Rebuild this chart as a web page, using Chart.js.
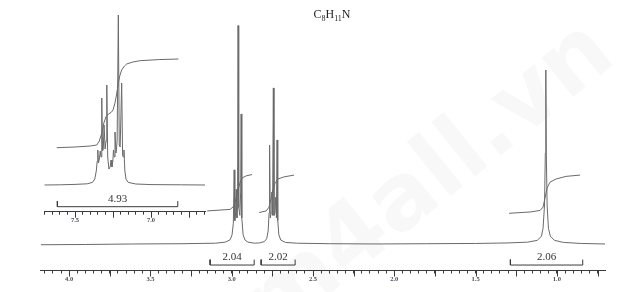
<!DOCTYPE html>
<html><head><meta charset="utf-8">
<script src="https://cdn.jsdelivr.net/npm/chart.js@4.4.1/dist/chart.umd.min.js"></script>
<style>
html,body{margin:0;padding:0;background:#fff;}
#wrap{position:relative;width:619px;height:292px;overflow:hidden;background:#fff;}
canvas{position:absolute;left:0;top:0;}
</style></head><body>
<div id="wrap"><canvas id="main" width="619" height="292"></canvas><canvas id="inset" width="619" height="292"></canvas></div>
<script>
// ---------- DATA (ppm, intensity) ----------
const mainTickValues = [4.0, 3.5, 3.0, 2.5, 2.0, 1.5, 1.0];
const mainTickLabels = ['4.0', '3.5', '3.0', '2.5', '2.0', '1.5', '1.0'];
const insetTickValues = [7.5, 7.0];
const insetTickLabels = ['7.5', '7.0'];

const mainSpectrum = [
  [4.175,-0.3],[3.90,-0.2],[3.60,0],[3.30,0.1],[3.10,0.3],[3.04,0.7],[3.01,1.6],[2.998,3.5],[2.990,8],
  [2.985,28.5],[2.981,9],[2.976,12],[2.972,21],[2.968,10],[2.964,22],[2.961,84],[2.957,14],[2.950,11],
  [2.945,20],[2.942,50],[2.938,10],[2.930,3.5],[2.918,1.5],[2.90,0.7],[2.86,0.3],[2.83,0.4],[2.80,0.9],
  [2.785,2],[2.776,5],[2.770,12],[2.767,38],[2.763,10],[2.757,12],[2.753,20],[2.749,11],[2.744,60],
  [2.740,11],[2.734,12],[2.729,18],[2.725,10],[2.721,40],[2.717,9],[2.710,3.5],[2.698,1.5],[2.67,0.6],
  [2.60,0.3],[2.40,0.1],[2.10,0],[1.80,0.1],[1.50,0.2],[1.30,0.4],[1.18,0.7],[1.12,1.4],[1.095,3],
  [1.085,6],[1.076,15],[1.071,35],[1.068,66.9],[1.065,35],[1.060,15],[1.052,6],[1.040,3],[1.015,1.4],
  [0.96,0.6],[0.85,0.2],[0.704,0]
];
const integralA = [[3.151,12.7],[3.010,13.3],[2.985,14.6],[2.973,17.7],[2.961,20.8],[2.948,23.8],[2.936,25.4],[2.911,26.2],[2.875,26.7]];
const integralB = [[2.831,12.1],[2.788,12.7],[2.770,14.2],[2.758,17.7],[2.746,20.8],[2.733,23.5],[2.715,25.0],[2.678,25.8],[2.616,26.5]];
const integralC = [[1.294,11.8],[1.165,12.3],[1.103,12.9],[1.085,14.2],[1.073,17.7],[1.060,21.5],[1.042,23.8],[1.005,25.0],[0.943,26.0],[0.857,26.5]];
const mainRegions = [[3.133,2.862],[2.819,2.610],[1.286,0.841]];
const mainRegionLabels = ['2.04','2.02','2.06'];

const insetSpectrum = [
  [7.702,0],[7.60,0.1],[7.50,0.3],[7.42,0.6],[7.385,1.3],[7.370,3],[7.360,7],[7.354,12],[7.350,17.5],
  [7.346,11],[7.340,13],[7.334,17],[7.329,14],[7.324,43.5],[7.319,17],[7.314,18],[7.309,30],[7.302,18],
  [7.296,22],[7.291,50],[7.285,14],[7.277,8],[7.269,9],[7.263,12.5],[7.257,9],[7.251,12],[7.247,17.5],
  [7.242,14],[7.237,26.5],[7.230,16],[7.223,22],[7.215,85],[7.209,20],[7.203,19],[7.193,51],[7.187,15],
  [7.182,14],[7.178,17.5],[7.172,7],[7.165,3],[7.150,1.3],[7.10,0.5],[7.00,0.2],[6.80,0.1],[6.645,0]
];
const insetIntegral = [[7.620,18.65],[7.50,19.0],[7.40,19.5],[7.357,20],[7.340,22],[7.324,26],[7.310,31],[7.296,34.2],
  [7.280,35.5],[7.262,36.3],[7.250,37.5],[7.237,41],[7.225,46],[7.215,51],[7.204,55],[7.193,57.5],[7.175,59.5],
  [7.160,60.5],[7.120,61.5],[7.072,62.15],[6.95,62.7],[6.820,63]];
const insetRegions = [[7.616,6.824]];
const insetRegionLabels = ['4.93'];

// ---------- STYLE ----------
const LINE = '#6a6a6a';
const AXIS = '#3a3a3a';
const TEXT = '#333';

const toXY = arr => arr.map(p => ({x: p[0], y: p[1]}));
const bracket = (r, yEnd, yBar) => [{x:r[0],y:yEnd},{x:r[0],y:yBar},{x:r[1],y:yBar},{x:r[1],y:yEnd}];
const lineDs = (data, color, w) => ({type:'line', data, borderColor: color, borderWidth: w, pointRadius: 0, tension: 0, fill: false});

function makeTickCallback(vals, labels) {
  return function(v) {
    const i = vals.findIndex(t => Math.abs(t - v) < 1e-6);
    return i >= 0 ? labels[i] : '';
  };
}
function tickFilter(scale) {
  scale.ticks = scale.ticks.filter(t => Math.abs(t.value / 0.05 - Math.round(t.value / 0.05)) < 1e-6);
}
function longTicks(len) {
  return {
    id: 'longTicks',
    afterDraw(chart) {
      const s = chart.scales.x, ctx = chart.ctx;
      ctx.save();
      ctx.strokeStyle = AXIS; ctx.lineWidth = 1;
      s.ticks.forEach(t => {
        if (Math.abs(t.value / 0.25 - Math.round(t.value / 0.25)) < 1e-6) {
          const px = Math.round(s.getPixelForValue(t.value)) + 0.5;
          ctx.beginPath(); ctx.moveTo(px, s.top); ctx.lineTo(px, s.top + len); ctx.stroke();
        }
      });
      ctx.restore();
    }
  };
}
function regionLabels(regions, labels, level) {
  return {
    id: 'regionLabels',
    afterDatasetsDraw(chart) {
      const ctx = chart.ctx, sx = chart.scales.x, sy = chart.scales.y;
      ctx.save();
      ctx.font = '11px "Liberation Serif"';
      ctx.fillStyle = TEXT; ctx.textAlign = 'center'; ctx.textBaseline = 'middle';
      regions.forEach((r, i) => {
        ctx.fillText(labels[i], sx.getPixelForValue((r[0] + r[1]) / 2), sy.getPixelForValue(level));
      });
      ctx.restore();
    }
  };
}
const titlePlugin = {
  id: 'formula',
  afterDraw(chart) {
    const ctx = chart.ctx;
    const parts = [['C',0],['8',1],['H',0],['11',1],['N',0]];
    const big = '12px "Liberation Serif"', small = '8px "Liberation Serif"';
    let w = 0;
    parts.forEach(p => { ctx.font = p[1] ? small : big; w += ctx.measureText(p[0]).width; });
    let x = 332 - w / 2;
    ctx.save(); ctx.fillStyle = '#222'; ctx.textBaseline = 'alphabetic';
    parts.forEach(p => {
      ctx.font = p[1] ? small : big;
      ctx.fillText(p[0], x, p[1] ? 20.5 : 18);
      x += ctx.measureText(p[0]).width;
    });
    ctx.restore();
  }
};
const watermark = {
  id: 'watermark',
  beforeDatasetsDraw(chart) {
    const ctx = chart.ctx;
    ctx.save();
    ctx.translate(430, 182);
    ctx.rotate(-0.68);
    ctx.font = 'bold 92px "DejaVu Sans"';
    ctx.fillStyle = 'rgba(0,0,0,0.028)';
    ctx.textAlign = 'center'; ctx.textBaseline = 'middle';
    ctx.fillText('m4all.vn', 0, 0);
    ctx.restore();
  }
};

function xAxis(min, max, vals, labels, height) {
  return {
    type: 'linear', reverse: true, min, max,
    afterFit(s) { s.height = height; },
    afterBuildTicks: tickFilter,
    border: {display: true, color: AXIS, width: 1},
    grid: {display: true, drawOnChartArea: false, drawTicks: true, tickLength: 3, tickColor: AXIS, tickWidth: 1},
    ticks: {stepSize: 0.05, includeBounds: false, autoSkip: false, maxRotation: 0, minRotation: 0, padding: 2,
      font: {family: 'Liberation Serif', size: 6.5, weight: 'bold'}, color: '#4a4a5a',
      callback: makeTickCallback(vals, labels)}
  };
}
const common = {responsive: false, animation: false, devicePixelRatio: 1,
  plugins: {legend: {display: false}, tooltip: {enabled: false}, title: {display: false}}};

// ---------- MAIN SPECTRUM ----------
const MB_END = -6.0, MB_BAR = -8.1, MB_LABEL = -5.1;
new Chart(document.getElementById('main'), {
  type: 'line',
  data: {datasets: [
    lineDs(toXY(mainSpectrum), LINE, 1),
    lineDs(toXY(integralA), LINE, 1),
    lineDs(toXY(integralB), LINE, 1),
    lineDs(toXY(integralC), LINE, 1),
    ...mainRegions.map(r => lineDs(bracket(r, MB_END, MB_BAR), AXIS, 1))
  ]},
  options: Object.assign({}, common, {
    layout: {padding: {left: 40.7, right: 14, top: 5, bottom: 0}},
    scales: {
      x: xAxis(0.704, 4.175, mainTickValues, mainTickLabels, 21.5),
      y: {display: false, min: -10.2, max: 91.9}
    }
  }),
  plugins: [watermark, longTicks(6), regionLabels(mainRegions, mainRegionLabels, MB_LABEL), titlePlugin]
});

// ---------- AROMATIC INSET ----------
const IB_END = -8.0, IB_BAR = -10.85, IB_LABEL = -7.15;
new Chart(document.getElementById('inset'), {
  type: 'line',
  data: {datasets: [
    lineDs(toXY(insetSpectrum), LINE, 1),
    lineDs(toXY(insetIntegral), LINE, 1),
    ...insetRegions.map(r => lineDs(bracket(r, IB_END, IB_BAR), AXIS, 1))
  ]},
  options: Object.assign({}, common, {
    layout: {padding: {left: 44.3, right: 414, top: 5, bottom: 59.3}},
    scales: {
      x: xAxis(6.645, 7.702, insetTickValues, insetTickLabels, 21),
      y: {display: false, min: -13.35, max: 90}
    }
  }),
  plugins: [longTicks(6), regionLabels(insetRegions, insetRegionLabels, IB_LABEL)]
});
</script>
</body></html>
